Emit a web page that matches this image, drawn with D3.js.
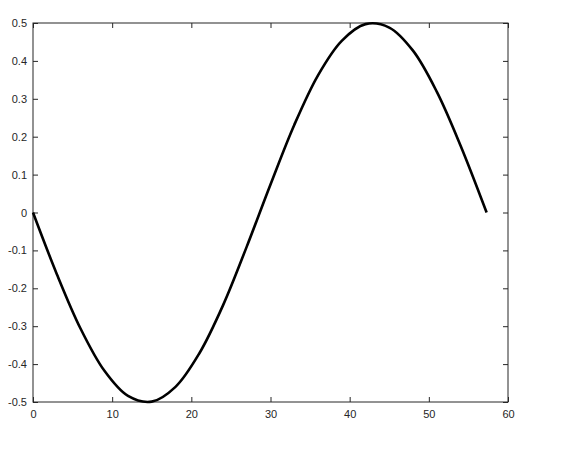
<!DOCTYPE html>
<html><head><meta charset="utf-8">
<script src="https://cdn.jsdelivr.net/npm/d3@7"></script>
<style>body{margin:0;background:#fff}</style></head>
<body><svg width="586" height="449"></svg>
<script>
const xValues=[0,3,6,9,12,15,18,21,24,27,30,33,36,39,42,45,48,51,54,57.3];
const yValues=[0,-0.162,-0.306,-0.417,-0.484,-0.499,-0.46,-0.372,-0.245,-0.09,0.074,0.231,0.362,0.453,0.497,0.488,0.427,0.319,0.177,0];
const xTicks=[0,10,20,30,40,50,60];
const yTicks=[-0.5,-0.4,-0.3,-0.2,-0.1,0,0.1,0.2,0.3,0.4,0.5];
const svg=d3.select("svg");
const L=33,R=508,T=23,B=402;
const x=d3.scaleLinear().domain([0,60]).range([L,R]);
const y=d3.scaleLinear().domain([-0.5,0.5]).range([B,T]);
const font="Liberation Sans, Arial, sans-serif";
function style(g){g.selectAll("path").remove();g.selectAll("line").attr("stroke","#262626");g.selectAll("text").attr("font-family",font).attr("font-size",11).attr("fill","#262626");}
const fmt=d=>d===0?"0":String(d);
svg.append("g").attr("transform",`translate(0,${B})`).call(d3.axisBottom(x).tickValues(xTicks).tickSize(-5).tickPadding(8).tickFormat(fmt)).call(style);
svg.append("g").attr("transform",`translate(0,${T})`).call(d3.axisTop(x).tickValues(xTicks).tickSize(-5).tickFormat("")).call(style);
svg.append("g").attr("transform",`translate(${L},0)`).call(d3.axisLeft(y).tickValues(yTicks).tickSize(-5).tickPadding(6).tickFormat(fmt)).call(style);
svg.append("g").attr("transform",`translate(${R},0)`).call(d3.axisRight(y).tickValues(yTicks).tickSize(-5).tickFormat("")).call(style);
svg.append("rect").attr("x",L).attr("y",T).attr("width",R-L).attr("height",B-T).attr("fill","none").attr("stroke","#262626").attr("stroke-width",1);
const data=xValues.map((v,i)=>[v,yValues[i]]);
svg.append("path").datum(data).attr("fill","none").attr("stroke","#000").attr("stroke-width",2.6)
 .attr("d",d3.line().x(d=>x(d[0])).y(d=>y(d[1])).curve(d3.curveCatmullRom.alpha(0.5)));
</script></body></html>
